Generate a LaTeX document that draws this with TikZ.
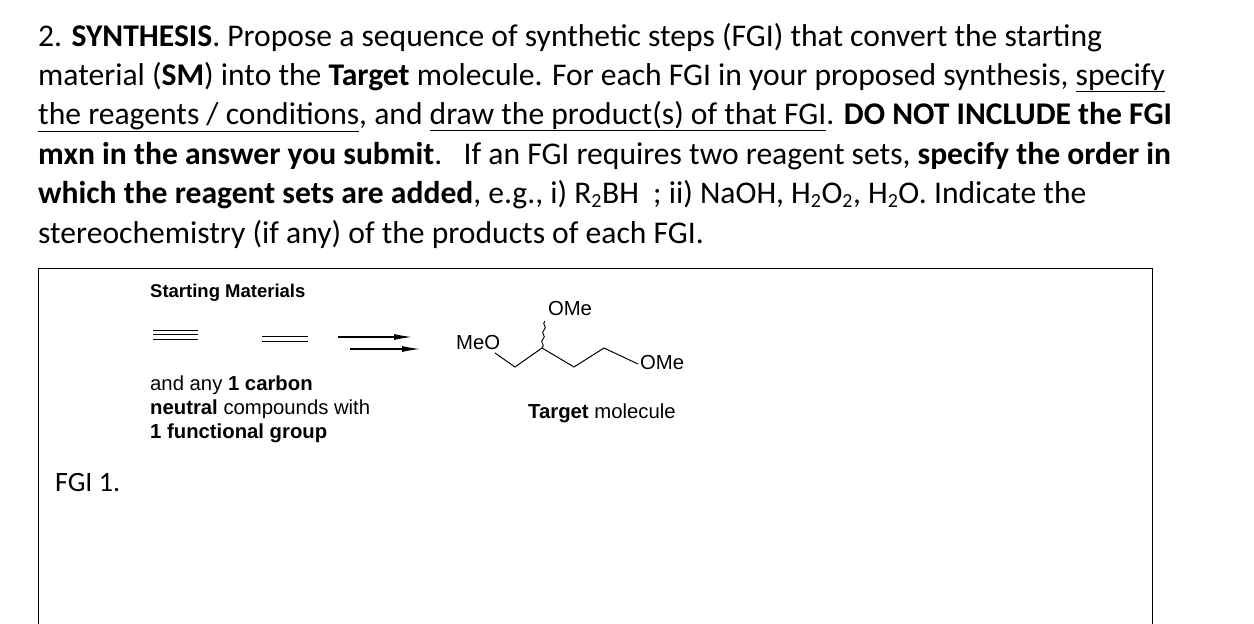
\documentclass[tikz,border=0pt]{standalone}
\usepackage{fontspec}
\usetikzlibrary{arrows.meta}
\setmainfont{Carlito}
\newfontfamily\arial{Liberation Sans}
\newcommand{\sbs}[1]{$_{\mbox{\fontsize{20}{20}\selectfont #1}}$}
\begin{document}
\begin{tikzpicture}[x=1pt,y=-1pt,
 hline/.style={anchor=base west,inner sep=0pt,font=\fontsize{31.6}{34}\selectfont},
 sm/.style={inner sep=0pt,font=\arial\fontsize{20.3}{22}\selectfont},
 bond/.style={line width=1pt},
 arr/.style={line width=1.1pt,-{Latex[length=18pt,width=6pt]}}]
\useasboundingbox (0,0) rectangle (1254,624);
\node[hline] (l1) at (38,46) {2. \textbf{SYNTHESIS}. Propose a sequence of synthetic steps (FGI) that convert the starting};
\node[hline] (l2) at (38,85) {material (\textbf{SM}) into the \textbf{Target} molecule. For each FGI in your proposed synthesis, \underline{specify}};
\node[hline] (l3) at (38,124) {\underline{the reagents / conditions}, and \underline{draw the product(s) of that FGI}. \textbf{DO NOT INCLUDE the FGI}};
\node[hline] (l4) at (38,164) {\textbf{mxn in the answer you submit}.\ \ \ If an FGI requires two reagent sets, \textbf{specify the order in}};
\node[hline] (l5) at (38,203) {\textbf{which the reagent sets are added}, e.g., i) R\sbs{2}BH\ \ ; ii) NaOH, H\sbs{2}O\sbs{2}, H\sbs{2}O. Indicate the};
\node[hline] (l6) at (38,243) {stereochemistry (if any) of the products of each FGI.};
\draw[line width=1pt] (38,630) -- (38,268) -- (1152,268) -- (1152,630);
\node[sm,anchor=base west,font=\arial\bfseries\fontsize{18.5}{20}\selectfont] (st) at (150,297) {Starting Materials};
\draw[bond] (153,330) -- (198,330) (153,334.5) -- (198,334.5) (153,339) -- (198,339);
\draw[bond] (262,336) -- (308,336) (262,341) -- (308,341);
\coordinate (a1) at (338,337); \coordinate (a2) at (412,337);
\coordinate (b1) at (350,349); \coordinate (b2) at (420,349);
\draw[arr] (a1) -- (a2);
\draw[arr] (b1) -- (b2);
\node[sm,anchor=base west] (and) at (150,390) {and any \textbf{1 carbon}};
\node[sm,anchor=base west] (neu) at (150,414) {\textbf{neutral} compounds with};
\node[sm,anchor=base west] (fg) at (150,438) {\textbf{1 functional group}};
\node[sm,anchor=base west] (meo) at (456,349) {MeO};
\node[sm,anchor=base] (ome1) at (570,315) {OMe};
\node[sm,anchor=base west] (ome2) at (640,369) {OMe};
\coordinate (c0) at (495,353);
\coordinate (c1) at (515,367); \coordinate (c2) at (542,348);
\coordinate (c3) at (574,367); \coordinate (c4) at (604,348);
\coordinate (c5) at (638,364);
\draw[bond,line join=round] (c0) -- (c1) -- (c2) -- (c3) -- (c4) -- (c5);
\draw[line width=0.9pt] (c2) .. controls (546,345) and (539,342) .. (543,339)
 .. controls (547,336) and (540,333) .. (544,330)
 .. controls (548,327) and (541,324) .. (545,321);
\node[sm,anchor=base west] (tm) at (528,418) {\textbf{Target} molecule};
\node[anchor=base west,inner sep=0pt,font=\fontsize{28}{30}\selectfont] (fgi) at (55,491) {FGI 1.};
\end{tikzpicture}
\end{document}
